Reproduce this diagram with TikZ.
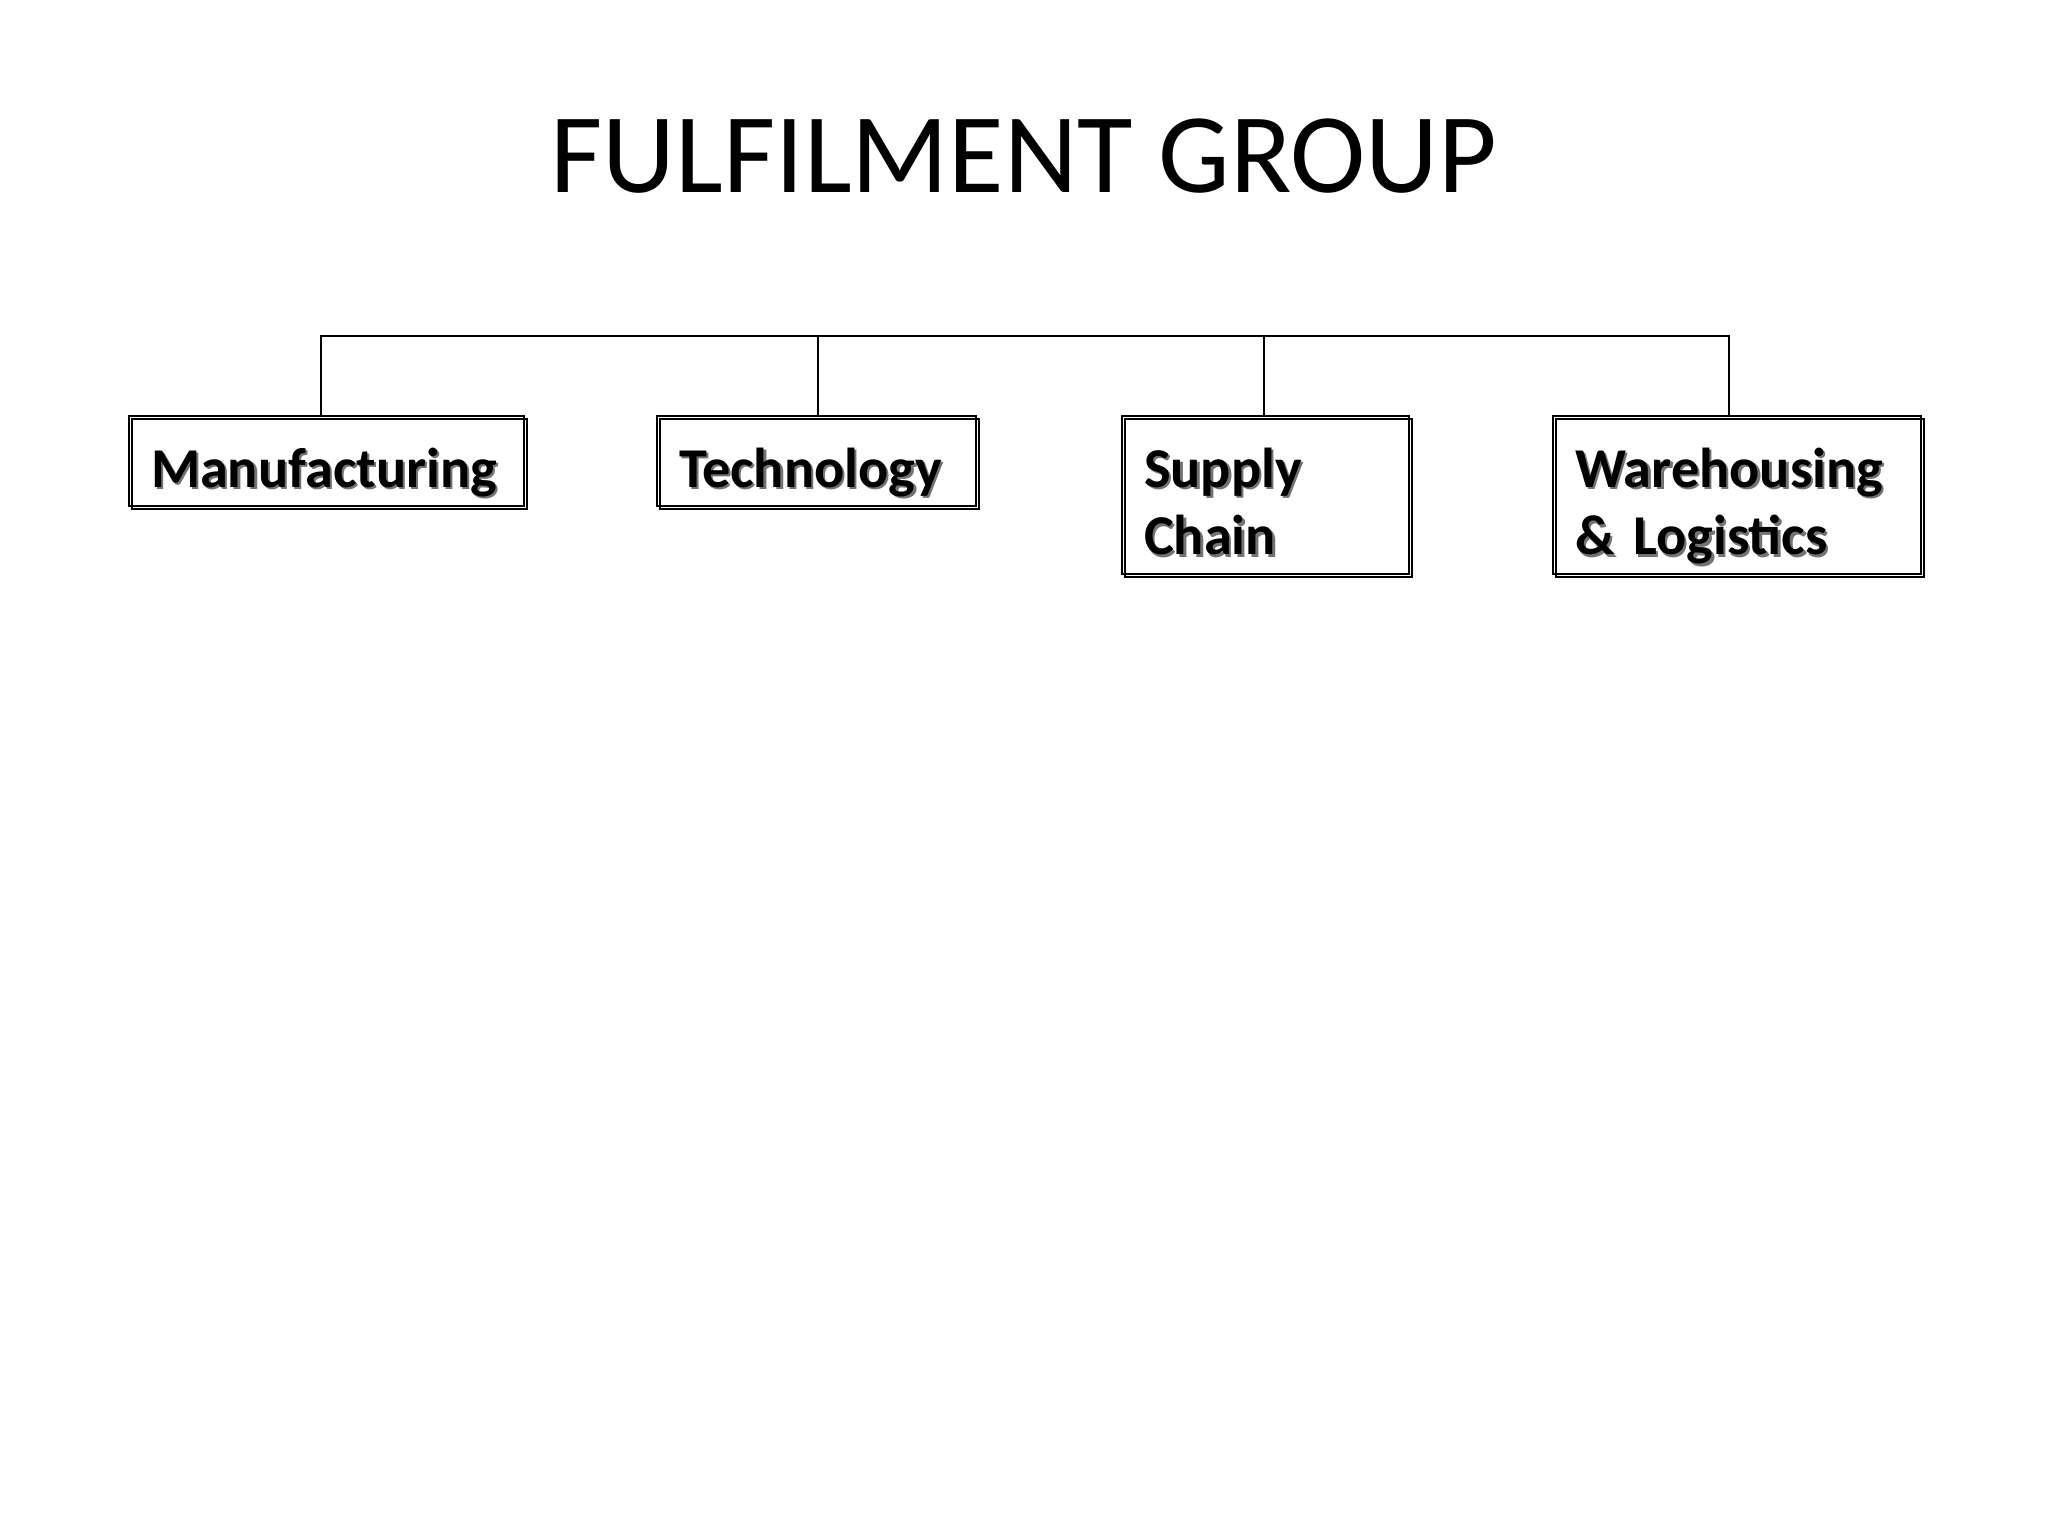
\documentclass[tikz,border=0pt]{standalone}
\usepackage{fontspec}
\setmainfont{Carlito}
\usetikzlibrary{shadows}
\newcommand{\shad}[1]{\makebox[0pt][l]{\hspace{0.7pt}\raisebox{-0.7pt}{\color{black!55}#1}}#1}
\begin{document}
\begin{tikzpicture}[thin,
		unit/.style={draw, line width=0.6pt, anchor=north west, align=left, inner xsep=0.22cm, inner ysep=0pt,
			font=\fontsize{16}{19.3}\selectfont\bfseries, text height=0.71cm,
			copy shadow={draw=black, fill=none, opacity=1, shadow xshift=0.028cm, shadow yshift=-0.028cm}},
		link/.style={line width=0.55pt}]
		\useasboundingbox (0,0) rectangle (20.48,15.36);
		\node[anchor=base, font=\fontsize{32.3}{38}\selectfont] (title) at (10.24,13.43) {FULFILMENT GROUP};
		\node[unit, text width=3.51cm, text depth=0.19cm] (manu) at (1.28,11.21) {\shad{Manufacturing}};
		\node[unit, text width=2.75cm, text depth=0.19cm] (tech) at (6.56,11.21) {\shad{Technology}};
		\node[unit, text width=2.43cm, text depth=0.87cm] (supply) at (11.21,11.21) {\shad{Supply}\\\shad{Chain}};
		\node[unit, text width=3.24cm, text depth=0.87cm] (ware) at (15.52,11.21) {\shad{Warehousing}\\\shad{\& Logistics}};
		\coordinate (bus) at (0,12.00);
		\draw[link] ([xshift=-0.055cm]manu.north) -- ([xshift=-0.055cm]manu.north |- bus) -- ([xshift=-0.08cm]ware.north |- bus) -- ([xshift=-0.08cm]ware.north);
		\draw[link] ([xshift=0.015cm]tech.north) -- ([xshift=0.015cm]tech.north |- bus);
		\draw[link] ([xshift=-0.015cm]supply.north) -- ([xshift=-0.015cm]supply.north |- bus);
\end{tikzpicture}
\end{document}
